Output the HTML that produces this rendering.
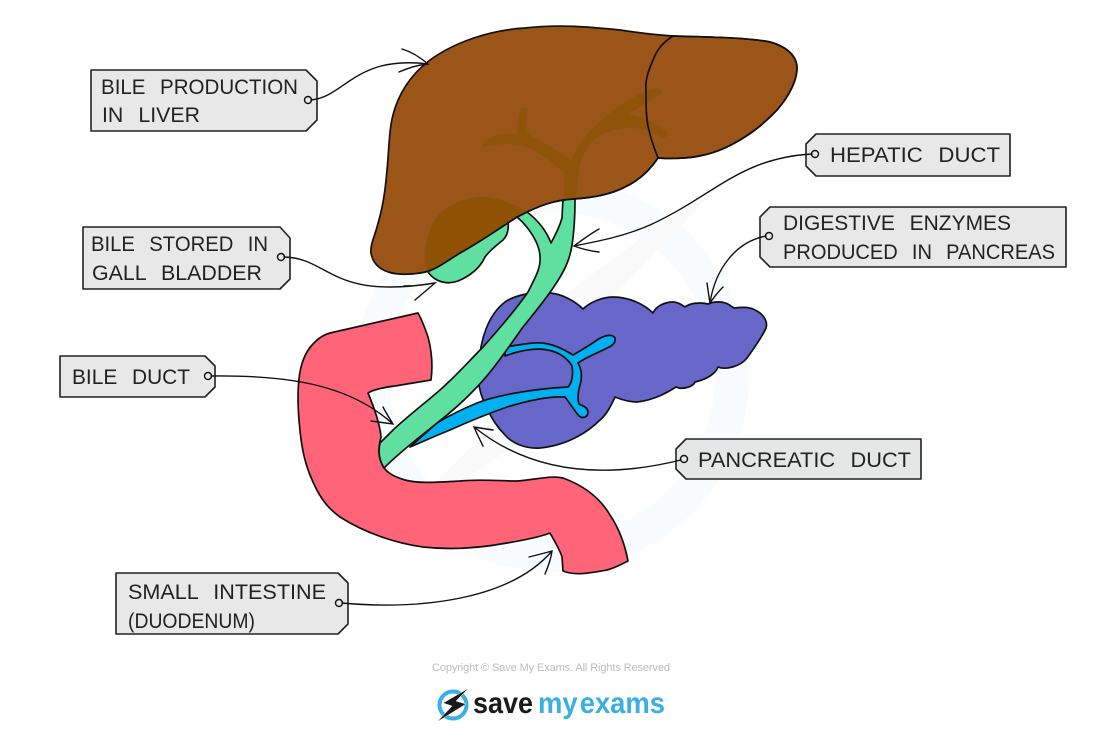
<!DOCTYPE html>
<html><head><meta charset="utf-8"><style>
html,body{margin:0;padding:0;background:#fff}
svg{display:block}
.l{font-family:"Liberation Sans",sans-serif;font-size:21px;fill:#222;word-spacing:9px}
.o{fill:none;stroke:#111;stroke-width:1.7;stroke-linejoin:round;stroke-linecap:round}
.a{fill:none;stroke:#111;stroke-width:1.4;stroke-linecap:round;stroke-linejoin:miter}
.t{fill:#e8e8e8;stroke:#222;stroke-width:1.6;stroke-linejoin:round}
.c{fill:none;stroke:#111;stroke-width:1.4}
</style></head><body>
<svg width="1100" height="741" viewBox="0 0 1100 741" xmlns="http://www.w3.org/2000/svg">
<rect width="1100" height="741" fill="#fff"/>
<!-- watermark -->
<g fill="none">
<circle cx="552" cy="375" r="180" stroke="#f9fcfe" stroke-width="34"/>
<path d="M365 550 L520 400 L440 385 L735 170 L600 310 L680 330 Z" fill="#fafafb"/>
</g>
<!-- intestine -->
<path class="o" style="fill:#ff6478" d="M418 313 L330 333 C318 336 308 348 304 358 C298 372 297 395 299 420 C301 445 304 460 310 475 C318 495 326 507 340 517 C365 533 395 543 423 547 C450 550 480 548 507 543 C525 540 540 537 550 533 C555 542 560 550 562 557 L563 571 C575 576 590 573 607 570 C615 568 622 564 628 561 C625 545 620 530 610 515 C600 498 585 486 563 478 C550 475 535 480 517 481 C500 481 480 479 460 481 C440 482 420 484 405 480 C395 477 388 473 385 469 C378 460 378 448 381 437 C380 425 376 412 368 393 C372 390 385 387 395 386 L431 380 C433 365 432 352 428 337 C425 328 422 320 418 313 Z"/>
<!-- pancreas -->
<path class="o" style="fill:#6667c9" d="M583 309 C590 302 603 297 613 297 C630 297 645 305 653 313 C656 306 665 302 673 302 C678 302 682 305 685 307 C690 303 700 302 708 304 C712 302 720 301 725 303 C730 304 732 308 735 308 C742 307 750 307 755 310 C764 314 768 322 766 328 C763 335 755 347 747 358 C740 367 725 370 718 367 C716 373 708 379 695 382 C693 387 682 390 676 387 C668 392 655 400 637 402 C628 402 620 399 615 397 C610 408 606 415 600 420 C590 430 570 445 540 448 C525 449 512 443 505 435 C495 425 490 415 487 408 C480 395 477 383 479 365 C480 340 488 315 505 302 C515 295 535 291 550 293 C562 294 575 301 583 309 Z"/>
<!-- pancreatic duct -->
<path class="o" style="fill:#00b0f0" d="M410 447 L437 423 C450 415 465 408 477 403 C495 396 530 389 568 387 C573 382 573 372 572 366 C566 356 555 350 540 349 C530 349 518 351 505 356 L505 347 C520 345 532 342 542 343 C553 344 565 350 573 355 C580 351 590 345 597 340 C603 336 612 333 615 338 C616 343 612 346 607 348 C600 352 588 356 578 363 C582 370 582 378 580 385 C578 392 577 398 579 404 C582 406 587 406 588 412 C588 417 583 419 579 416 C574 410 569 402 565 397 C550 396 530 400 507 407 C490 413 470 421 450 430 C435 436 422 442 410 447 Z"/>
<!-- bile duct + cystic duct -->
<path class="o" style="fill:#60e0a0" d="M380 443 L393 430 C408 416 425 403 440 390 C458 374 470 360 483 347 C500 328 517 308 528 292 C535 278 541 268 540 257 C540 245 530 228 517 217 L527 212 C538 220 547 232 551 243 C556 234 560 225 562 218 L563 199 L575 199 C575 215 574 232 572 245 C570 258 566 268 557 282 C547 298 535 312 523 327 C510 345 495 368 477 387 C463 402 450 413 437 423 C420 437 402 450 384 468 C379 460 378 452 380 443 Z"/>
<!-- gall bladder -->
<path class="o" style="fill:#60e0a0" d="M428 272 C440 265 470 245 508 222 C509 230 507 236 503 240 C497 245 490 250 485 257 C480 268 470 276 458 281 C447 285 435 282 428 272 Z"/>
<!-- liver -->
<path class="o" style="fill:#9c5518" d="M673 36 C700 37 745 37 770 42 C785 46 797 55 797 68 C797 80 790 95 777 110 C760 128 745 138 727 147 C710 155 690 160 658 158 C650 170 640 180 625 187 C610 195 590 198 573 199 C555 200 540 205 517 217 C500 228 480 242 460 253 C445 262 435 271 420 273 C400 276 375 275 371 253 C370 245 375 235 377 227 C382 210 385 195 387 170 C389 150 389 130 393 115 C398 95 410 75 430 60 C455 42 490 30 525 28 C560 24 590 27 620 30 C640 33 655 35 673 36 Z"/>
<!-- shapes seen through liver -->
<path d="M428 272 C423 262 424 245 433 223 C442 208 460 198 483 197 C500 198 515 205 527 212 L517 217 C500 228 480 242 460 253 C445 262 437 268 428 272 Z" fill="#8f5205" stroke="#8a5414" stroke-width="1"/>
<path d="M564 199 L565 173 L547 158 C538 152 530 147 523 145 C510 143 495 143 482 147 C484 142 492 136 500 135 L518 134 C518 125 518 115 522 108 L527 109 C527 115 525 122 526 128 C527 133 530 136 534 138 L550 147 L572 161 C575 152 582 140 590 132 C600 122 615 107 633 98 C640 94 648 89 655 89 C660 89 663 91 662 92 C658 95 655 97 650 100 C642 105 634 110 627 115 C635 116 642 118 647 120 C655 124 662 128 667 133 C667 136 665 137 663 137 C656 134 650 131 643 129 C635 127 628 127 620 128 C610 130 600 134 593 140 C587 146 584 152 582 157 C579 165 577 175 577 185 L575 199 Z" fill="#905408" stroke="#8a5414" stroke-width="1"/>
<path d="M673 36 C662 43 657 50 653 60 C648 72 645 80 646 90 C646 105 646 120 649 130 C651 140 655 150 658 158" class="o"/>
<path class="o" d="M673 36 C700 37 745 37 770 42 C785 46 797 55 797 68 C797 80 790 95 777 110 C760 128 745 138 727 147 C710 155 690 160 658 158 C650 170 640 180 625 187 C610 195 590 198 573 199 C555 200 540 205 517 217 C500 228 480 242 460 253 C445 262 435 271 420 273"/>
<!-- tags -->
<path class="t" d="M91 70 H306 L317 81 V120 L306 131 H91 Z"/>
<path class="t" d="M83 227 H280 L290 238 V279 L280 289 H83 Z"/>
<path class="t" d="M60 356 H205 L215 366 V387 L205 397 H60 Z"/>
<path class="t" d="M116 573 H338 L348 583 V624 L338 634 H116 Z"/>
<path class="t" d="M816 134 H1010 V176 H816 L806 166 V144 Z"/>
<path class="t" d="M770 207 H1066 V267 H770 L760 257 V217 Z"/>
<path class="t" d="M686 439 H921 V479 H686 L676 469 V449 Z" style="fill:#e5e7e7"/>
<!-- label text -->
<text class="l" x="101" y="94" textLength="197" lengthAdjust="spacingAndGlyphs">BILE PRODUCTION</text>
<text class="l" x="102" y="122" textLength="98" lengthAdjust="spacingAndGlyphs">IN LIVER</text>
<text class="l" x="91" y="251" textLength="177" lengthAdjust="spacingAndGlyphs">BILE STORED IN</text>
<text class="l" x="92" y="280" textLength="170" lengthAdjust="spacingAndGlyphs">GALL BLADDER</text>
<text class="l" x="72" y="384" textLength="118" lengthAdjust="spacingAndGlyphs">BILE DUCT</text>
<text class="l" x="128" y="599" textLength="198" lengthAdjust="spacingAndGlyphs">SMALL INTESTINE</text>
<text class="l" x="128" y="628" textLength="127" lengthAdjust="spacingAndGlyphs">(DUODENUM)</text>
<text class="l" x="830" y="162" textLength="170" lengthAdjust="spacingAndGlyphs">HEPATIC DUCT</text>
<text class="l" x="783" y="230" textLength="228" lengthAdjust="spacingAndGlyphs">DIGESTIVE ENZYMES</text>
<text class="l" x="783" y="259" textLength="272" lengthAdjust="spacingAndGlyphs">PRODUCED IN PANCREAS</text>
<text class="l" x="698" y="467" textLength="213" lengthAdjust="spacingAndGlyphs">PANCREATIC DUCT</text>
<!-- connectors -->
<circle class="c" cx="308" cy="100" r="3.5"/><path class="a" d="M311 100 C345 97 355 55 428 64 M402 49 C412 52 421 58 428 64 C418 65 408 68 399 72"/>
<circle class="c" cx="281" cy="257" r="3.5"/><path class="a" d="M284 257 C330 258 330 300 435 283 M404 286 C414 286 425 285 435 283 C428 289 421 295 415 300"/>
<circle class="c" cx="208" cy="376" r="3.5"/><path class="a" d="M211 376 C290 375 350 385 393 424 M383 407 C386 413 390 419 393 424 C386 423 378 422 371 421"/>
<circle class="c" cx="339" cy="603" r="3.5"/><path class="a" d="M342 603 C420 610 510 600 552 551 M529 557 C537 555 545 553 552 551 C551 559 548 567 545 574"/>
<circle class="c" cx="815" cy="154" r="3.5"/><path class="a" d="M812 154 C740 158 715 195 650 225 C625 236 600 241 574 246 M599 229 C590 234 582 240 574 246 C582 249 590 251 599 252"/>
<circle class="c" cx="769" cy="236" r="3.5"/><path class="a" d="M766 236 C735 242 715 270 710 303 M707 283 C708 290 709 297 710 303 C714 297 718 292 723 287"/>
<circle class="c" cx="684" cy="459" r="3.5"/><path class="a" d="M681 460 C620 475 540 480 474 427 M493 430 C486 429 480 428 474 427 C477 434 480 440 483 446"/>
<!-- footer -->
<text x="432" y="671" textLength="238" style="font-family:'Liberation Sans',sans-serif;font-size:11px;fill:#bdbdbd">Copyright © Save My Exams. All Rights Reserved</text>
<circle cx="453" cy="705" r="13.5" fill="none" stroke="#3aaee5" stroke-width="4"/>
<path d="M469 688 L443 703 L452 706 L437 722 L466 704 L456 701 Z" fill="#1a1a1a" stroke="#fff" stroke-width=".5"/>
<text x="473" y="713" textLength="60" lengthAdjust="spacingAndGlyphs" style="font-family:'Liberation Sans',sans-serif;font-size:30px;font-weight:bold;fill:#1a1a1a">save</text>
<text x="538" y="713" textLength="127" lengthAdjust="spacingAndGlyphs" style="font-family:'Liberation Sans',sans-serif;font-size:30px;font-weight:bold;fill:#3aaee5;word-spacing:-6px">my exams</text>
</svg>
</body></html>
